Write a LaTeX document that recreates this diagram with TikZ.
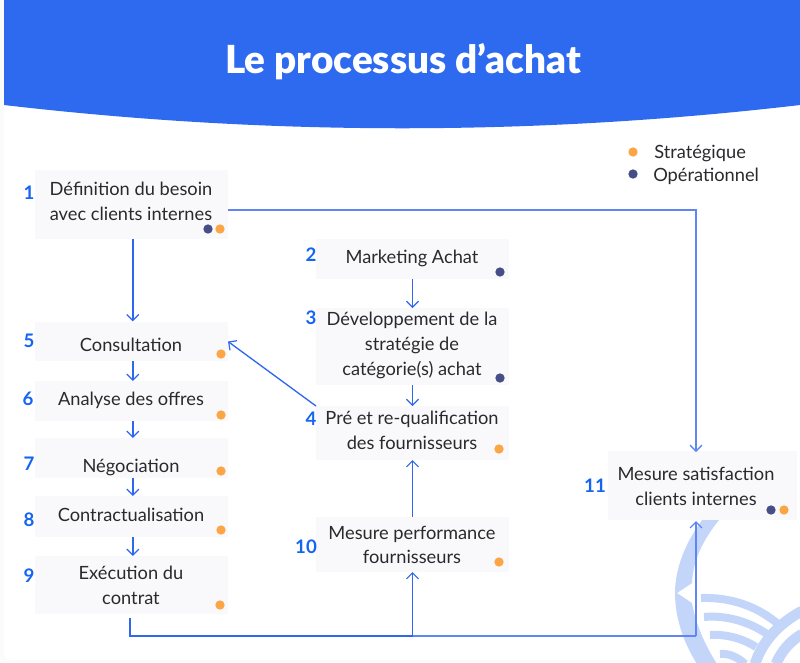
\documentclass[tikz,border=0pt]{standalone}
\usepackage{fontspec}
\setmainfont{Lato}
\newfontfamily\ttlfont{Lato Black}
\usetikzlibrary{arrows.meta}
\definecolor{hdr}{HTML}{2E6AF0}
\definecolor{lne}{HTML}{2F68F0}
\definecolor{lns}{HTML}{5F86F3}
\definecolor{num}{HTML}{1565F2}
\definecolor{boxc}{HTML}{F9F9FC}
\definecolor{wm}{HTML}{C3D6F9}
\definecolor{org}{HTML}{FBA544}
\definecolor{nav}{HTML}{454E85}
\definecolor{txt}{HTML}{2A2A2E}
\definecolor{edge}{HTML}{FBFBFB}
\tikzset{
 boxn/.style={fill=boxc,draw=none,inner sep=0pt,outer sep=0pt},
 lbl/.style={text=txt,align=center,inner sep=0pt,font=\fontsize{13.7}{18.6}\selectfont},
 lgd/.style={text=txt,anchor=west,inner sep=0pt,font=\fontsize{13.7}{18.6}\selectfont},
 numn/.style={text=num,inner sep=0pt,font=\fontsize{14}{15}\selectfont\bfseries},
 dotn/.style={circle,inner sep=0pt,minimum size=7pt,draw=none},
 ttl/.style={text=white,inner sep=0pt,font=\fontsize{29}{32}\selectfont\ttlfont},
 arr/.style={draw=lne,line width=1pt,-{Straight Barb[length=4.5pt,width=9pt,line width=.9pt]}},
 arl/.style={draw=lns,line width=1.3pt,-{Straight Barb[length=4.5pt,width=9pt,line width=1pt]}},
 lin/.style={draw=lne,line width=1pt},
 lil/.style={draw=lns,line width=1.3pt},
 band/.style={draw=wm,line width=6pt}
}
\newcommand\bx[5]{\node[boxn,minimum width={(#4-#2)*0.75pt},minimum height={(#5-#3)*0.75pt}] (#1) at ({(#2+#4)/2},{(#3+#5)/2}) {};}
\newcommand\tx[4]{\node[lbl] (#1) at (#2,#3) {#4};}
\newcommand\nm[4]{\node[numn] (#1) at (#2,#3) {#4};}
\newcommand\dt[4]{\node[dotn,fill=#4] (#1) at (#2,#3) {};}
\begin{document}
\begin{tikzpicture}[x=0.75pt,y=-0.75pt]
\useasboundingbox (0,0) rectangle (800,662);
\fill[edge] (0,0) rectangle (800,662);
\fill[white,rounded corners=4pt] (4,-10) rectangle (810,660);
% header
\fill[hdr] (4,0) -- (800,0) -- (800,105) .. controls (535,136) and (270,136) .. (4,105) -- cycle;
\node[ttl] (title) at (403,62) {Le processus d’achat};
% watermark
\begin{scope}
\clip (0,0) rectangle (800,662);
\fill[wm] (702,520) .. controls (684,545) and (675,570) .. (675,593)
  .. controls (675,620) and (685,645) .. (697,664) -- (717,664)
  .. controls (705,645) and (696,625) .. (692,603) -- (677,593) -- (692,583)
  .. controls (693,560) and (703,540) .. (719,520) -- cycle;
\draw[band] (701,598) .. controls (730,597) and (757,606) .. (778,624);
\draw[band] (704,617) .. controls (725,615) and (748,621) .. (767,634);
\draw[band] (710,635) .. controls (725,634) and (742,638) .. (756,647);
\draw[band] (720,654) .. controls (728,653) and (738,657) .. (745,664);
\draw[draw=wm,line width=8pt] (755,664) .. controls (762,642) and (778,624) .. (802,611);
\draw[draw=wm,line width=8pt] (776,664) .. controls (781,652) and (789,642) .. (802,634);
\end{scope}
% boxes
\bx{b1}{35}{170}{228}{239}
\bx{b5}{35}{322}{228}{361}
\bx{b6}{35}{381}{228}{421}
\bx{b7}{35}{438}{228}{478}
\bx{b8}{35}{496}{228}{537}
\bx{b9}{35}{556}{228}{614}
\bx{b2}{316}{239}{509}{279}
\bx{b3}{316}{308}{509}{385}
\bx{b4}{316}{406}{509}{460}
\bx{b10}{316}{517}{509}{572}
\bx{b11}{608}{451}{797}{520}
% labels
\tx{t1}{131}{201.5}{Définition du besoin\\avec clients internes}
\tx{t5}{131}{345}{Consultation}
\tx{t6}{131}{400}{Analyse des offres}
\tx{t7}{131}{467}{Négociation}
\tx{t8}{131}{515}{Contractualisation}
\tx{t9}{131}{585.5}{Exécution du\\contrat}
\tx{t2}{412}{258}{Marketing Achat}
\tx{t3}{412}{345.5}{Développement de la\\stratégie de\\catégorie(s) achat}
\tx{t4}{412}{430.5}{Pré et re-qualification\\des fournisseurs}
\tx{t10}{412}{545}{Mesure performance\\fournisseurs}
\tx{t11}{696}{486}{Mesure satisfaction\\clients internes}
% numbers
\nm{n1}{29}{193}{1}
\nm{n2}{311}{255}{2}
\nm{n3}{311}{318}{3}
\nm{n4}{311}{419}{4}
\nm{n5}{29}{341}{5}
\nm{n6}{28}{399}{6}
\nm{n7}{29}{464}{7}
\nm{n8}{29}{520}{8}
\nm{n9}{29}{576}{9}
\nm{n10}{306}{547}{10}
\nm{n11}{595}{486}{11}
% dots
\dt{d1a}{208}{229}{nav}
\dt{d1b}{220}{229}{org}
\dt{d5}{221}{354}{org}
\dt{d6}{221}{415}{org}
\dt{d7}{221}{471}{org}
\dt{d8}{221}{530}{org}
\dt{d9}{220}{605}{org}
\dt{d2}{500}{272}{nav}
\dt{d3}{500}{378}{nav}
\dt{d4}{499}{449}{org}
\dt{d10}{499}{562}{org}
\dt{d11a}{771}{510}{nav}
\dt{d11b}{784}{510}{org}
% legend
\dt{ls}{633}{152}{org}
\dt{lo}{633}{174}{nav}
\node[lgd] (ts) at (654,153) {Stratégique};
\node[lgd] (to) at (653,176.5) {Opérationnel};
% connectors
\coordinate (c1) at (696,210);
\coordinate (c11t) at (696,452);
\coordinate (c11b) at (696,521);
\coordinate (c9a) at (130,618);
\coordinate (c9b) at (130,636);
\coordinate (cj) at (412.5,636);
\coordinate (cr) at (696,636);
\draw[arr] ([xshift=1pt]b1.south) -- ([xshift=1pt,yshift=.5pt]b5.north);
\draw[arr] ([xshift=1pt]b5.south) -- ([xshift=1pt]b6.north);
\draw[arr] ([xshift=1pt]b6.south) -- ([xshift=1pt]b7.north);
\draw[arr] ([xshift=1pt]b7.south) -- ([xshift=1pt]b8.north);
\draw[arr] ([xshift=1pt]b8.south) -- ([xshift=1pt]b9.north);
\draw[arr] (b2.south) -- (b3.north);
\draw[arr] (b3.south) -- (b4.north);
\draw[arr] (b10.north) -- (b4.south);
\draw[arr] (b4.north west) -- (b5.east);
\draw[arl] (b1.east |- c1) -- (c1) -- (c11t);
\draw[lin] (c9a) -- (c9b) -- (cj);
\draw[lil] (cj) -- (cr);
\draw[arl] (cr) -- (c11b);
\draw[arr] (cj) -- (b10.south);
\end{tikzpicture}
\end{document}
